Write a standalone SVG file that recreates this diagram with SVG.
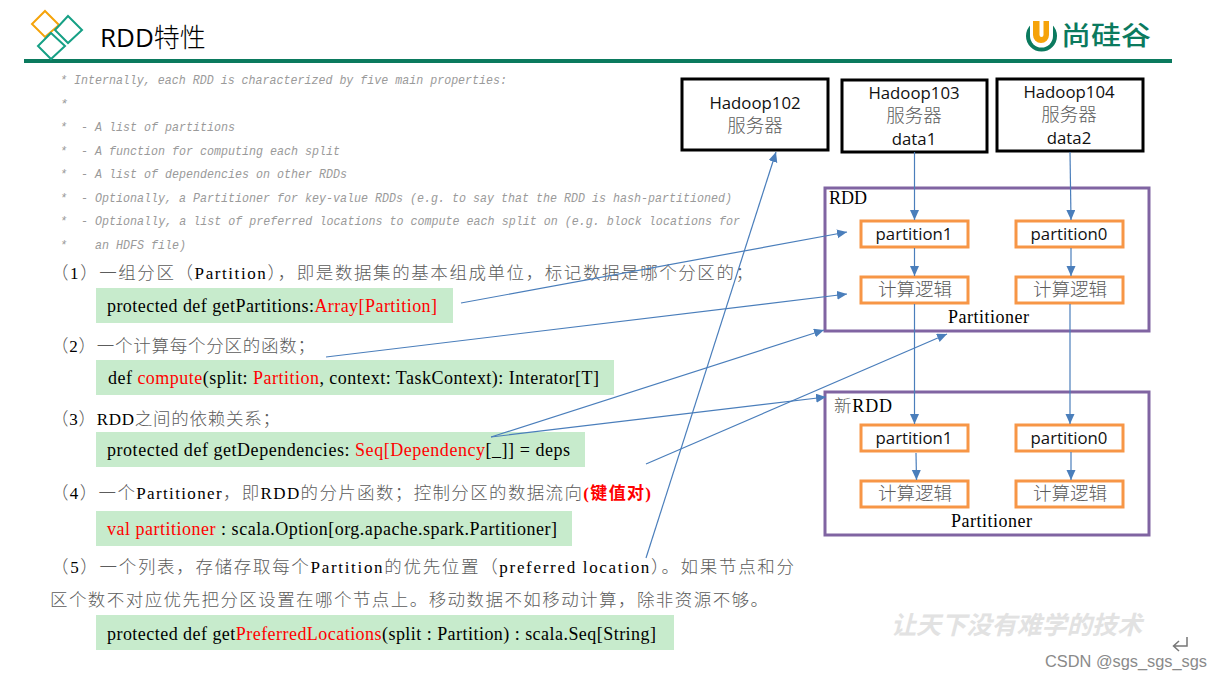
<svg xmlns="http://www.w3.org/2000/svg" width="1222" height="679" viewBox="0 0 1222 679">
<style>
text{white-space:pre}
.c{font:italic 13px "Liberation Mono",monospace;fill:#9a9a9a}
.t{font:17px "Liberation Serif","Noto Sans CJK SC",serif;fill:#000}
.z{font-family:"Noto Sans CJK SC","Liberation Serif",sans-serif;font-weight:300;font-size:17.5px;fill:#5c5c5c}
.code{font:18px "Liberation Serif","Noto Sans CJK SC",serif;fill:#000}
.r{fill:#f00}
.bar{fill:#c7ebcc}
.box{fill:#fff;stroke:#000;stroke-width:3}
.part{fill:#fff;stroke:#f79646;stroke-width:3}
.rdd{fill:none;stroke:#8064a2;stroke-width:3}
.n{font:16.8px "Open Sans","Noto Sans",sans-serif;fill:#111;text-anchor:middle}
.s{font:300 18.5px "Noto Sans CJK SC",sans-serif;fill:#5c5c5c;text-anchor:middle}
.l{font:18px "Liberation Serif",serif;fill:#000}
.e{stroke:#4a7ebb;stroke-width:1.2;fill:none;marker-end:url(#a)}
</style>
<defs><marker id="a" markerUnits="userSpaceOnUse" markerWidth="11" markerHeight="10" refX="10" refY="4.5" orient="auto"><path d="M0 0L10 4.500L0 9z" fill="#4a7ebb"/></marker></defs>
<rect width="1222" height="679" fill="#fff"/>
<g id="header">
<rect x="24" y="59" width="1148" height="4" fill="#0b7a5e"/>
<path d="M45 11L59 25L45 37L32 24z" fill="none" stroke="#f5a30a" stroke-width="2"/>
<path d="M68 16L82 30L68 43L55 30z" fill="none" stroke="#16a085" stroke-width="2"/>
<path d="M51 33L65 46L51 59L38 46z" fill="none" stroke="#16a085" stroke-width="2"/>
<text x="100" y="47" font-family="Open Sans,Noto Sans CJK SC,sans-serif" font-size="26" fill="#000">RDD<tspan font-family="Noto Sans CJK SC" font-weight="300">特性</tspan></text>
<circle cx="1041.500" cy="36" r="15.500" fill="#0b7a5e"/>
<path d="M1030 19H1053V36A11.500 11.500 0 0 1 1030 36z" fill="#fff"/>
<path d="M1033 21H1039.500V35A2 2 0 0 0 1043.500 35V21H1049V35A8 8 0 0 1 1033 35z" fill="#f5a30a"/>
<text x="1061" y="45" font-family="Noto Sans CJK SC,sans-serif" font-weight="500" font-size="26" fill="#0b7a5e" textLength="90" lengthAdjust="spacingAndGlyphs">尚硅谷</text>
</g>
<g id="comment">
<text class="c" x="60" y="84" textLength="447" lengthAdjust="spacingAndGlyphs">* Internally, each RDD is characterized by five main properties:</text>
<text class="c" x="60" y="108">*</text>
<text class="c" x="60" y="131" textLength="175" lengthAdjust="spacingAndGlyphs">*  - A list of partitions</text>
<text class="c" x="60" y="155" textLength="280" lengthAdjust="spacingAndGlyphs">*  - A function for computing each split</text>
<text class="c" x="60" y="178" textLength="287" lengthAdjust="spacingAndGlyphs">*  - A list of dependencies on other RDDs</text>
<text class="c" x="60" y="202" textLength="672" lengthAdjust="spacingAndGlyphs">*  - Optionally, a Partitioner for key-value RDDs (e.g. to say that the RDD is hash-partitioned)</text>
<text class="c" x="60" y="225" textLength="680" lengthAdjust="spacingAndGlyphs">*  - Optionally, a list of preferred locations to compute each split on (e.g. block locations for</text>
<text class="c" x="60" y="249" textLength="126" lengthAdjust="spacingAndGlyphs">*    an HDFS file)</text>
</g>
<g id="prop1">
<text class="t" x="51" y="279" textLength="702"><tspan class="z">（</tspan>1<tspan class="z">）一组分区（</tspan>Partition<tspan class="z">），即是数据集的基本组成单位，标记数据是哪个分区的；</tspan></text>
<rect class="bar" x="96" y="288" width="357" height="35"/>
<text class="code" x="107" y="312" textLength="330">protected def getPartitions:<tspan class="r">Array[Partition]</tspan></text>
</g>
<g id="prop2">
<text class="t" x="51" y="352" textLength="264"><tspan class="z">（</tspan>2<tspan class="z">）一个计算每个分区的函数；</tspan></text>
<rect class="bar" x="96" y="360" width="518" height="35"/>
<text class="code" x="108" y="384" textLength="491">def <tspan class="r">compute</tspan>(split: <tspan class="r">Partition</tspan>, context: TaskContext): Interator[T]</text>
</g>
<g id="prop3">
<text class="t" x="51" y="425" textLength="229"><tspan class="z">（</tspan>3<tspan class="z">）</tspan>RDD<tspan class="z">之间的依赖关系；</tspan></text>
<rect class="bar" x="96" y="432" width="489" height="35"/>
<text class="code" x="107" y="456" textLength="463">protected def getDependencies: <tspan class="r">Seq[Dependency</tspan>[_]] = deps</text>
</g>
<g id="prop4">
<text class="t" x="51" y="499" textLength="600"><tspan class="z">（</tspan>4<tspan class="z">）一个</tspan>Partitioner<tspan class="z">，即</tspan>RDD<tspan class="z">的分片函数；控制分区的数据流向</tspan><tspan class="r" font-weight="700">(键值对)</tspan></text>
<rect class="bar" x="96" y="511" width="476" height="35"/>
<text class="code" x="107" y="535" textLength="450"><tspan class="r">val partitioner</tspan> : scala.Option[org.apache.spark.Partitioner]</text>
</g>
<g id="prop5">
<text class="t" x="51" y="573" textLength="743"><tspan class="z">（</tspan>5<tspan class="z">）一个列表，存储存取每个</tspan>Partition<tspan class="z">的优先位置（</tspan>preferred location<tspan class="z">）。如果节点和分</tspan></text>
<text class="t z" x="50" y="606" textLength="718">区个数不对应优先把分区设置在哪个节点上。移动数据不如移动计算，除非资源不够。</text>
<rect class="bar" x="96" y="615" width="578" height="35"/>
<text class="code" x="107" y="640" textLength="549">protected def get<tspan class="r">PreferredLocations</tspan>(split : Partition) : scala.Seq[String]</text>
</g>
<g id="hadoop102"><rect class="box" x="682" y="79" width="146" height="71"/><text class="n" x="755" y="109">Hadoop102</text><text class="s" x="755" y="132">服务器</text></g>
<g id="hadoop103"><rect class="box" x="842" y="80" width="145" height="72"/><text class="n" x="914" y="99">Hadoop103</text><text class="s" x="914" y="122">服务器</text><text class="n" x="914" y="145">data1</text></g>
<g id="hadoop104"><rect class="box" x="997" y="79" width="146" height="72"/><text class="n" x="1069" y="98">Hadoop104</text><text class="s" x="1069" y="121">服务器</text><text class="n" x="1069" y="144">data2</text></g>
<g id="rdd"><rect class="rdd" x="825" y="188" width="324" height="143"/><text class="l" x="829" y="204">RDD</text><text class="l" x="948" y="323" textLength="81">Partitioner</text></g>
<g id="newrdd"><rect class="rdd" x="825" y="392" width="324" height="143"/><text class="l" x="834" y="412" textLength="58"><tspan class="z">新</tspan>RDD</text><text class="l" x="951" y="527" textLength="81">Partitioner</text></g>
<g id="p1"><rect class="part" x="861" y="221" width="107" height="26"/><text class="n" x="914" y="240">partition1</text></g>
<g id="p0"><rect class="part" x="1016" y="221" width="107" height="26"/><text class="n" x="1069" y="240">partition0</text></g>
<g id="c1"><rect class="part" x="861" y="277" width="107" height="26"/><text class="s" x="915" y="296">计算逻辑</text></g>
<g id="c0"><rect class="part" x="1016" y="277" width="107" height="26"/><text class="s" x="1070" y="296">计算逻辑</text></g>
<g id="np1"><rect class="part" x="861" y="425" width="107" height="26"/><text class="n" x="914" y="444">partition1</text></g>
<g id="np0"><rect class="part" x="1016" y="425" width="107" height="26"/><text class="n" x="1069" y="444">partition0</text></g>
<g id="nc1"><rect class="part" x="861" y="481" width="107" height="26"/><text class="s" x="915" y="500">计算逻辑</text></g>
<g id="nc0"><rect class="part" x="1016" y="481" width="107" height="26"/><text class="s" x="1070" y="500">计算逻辑</text></g>
<g id="connectors">
<path class="e" d="M914.500 152V220"/>
<path class="e" d="M1070 152L1071 220"/>
<path class="e" d="M914.500 248V276"/>
<path class="e" d="M1071 248V276"/>
<path class="e" d="M914.500 304V424"/>
<path class="e" d="M1070 304V424"/>
<path class="e" d="M916 453L916.500 480"/>
<path class="e" d="M1071 452V480"/>
<path class="e" d="M461 303L847 232"/>
<path class="e" d="M326 357L847 294"/>
<path class="e" d="M491 437L824 330"/>
<path class="e" d="M491 437L826 397"/>
<path class="e" d="M646 464L947 334"/>
<path class="e" d="M646 558L776 152"/>
</g>
<g id="footer">
<text x="891" y="634" font-family="Noto Sans CJK SC,sans-serif" font-weight="700" font-size="25" fill="#e2e2e2" font-style="italic" textLength="251" lengthAdjust="spacingAndGlyphs">让天下没有难学的技术</text>
<path d="M1187 637V646H1174M1179 641L1173.500 646L1179 651" fill="none" stroke="#777" stroke-width="1.500"/>
<text x="1045" y="667" font-family="Liberation Sans,sans-serif" font-size="16" fill="#8a8a8a" textLength="162" lengthAdjust="spacingAndGlyphs">CSDN @sgs_sgs_sgs</text>
</g>
</svg>
